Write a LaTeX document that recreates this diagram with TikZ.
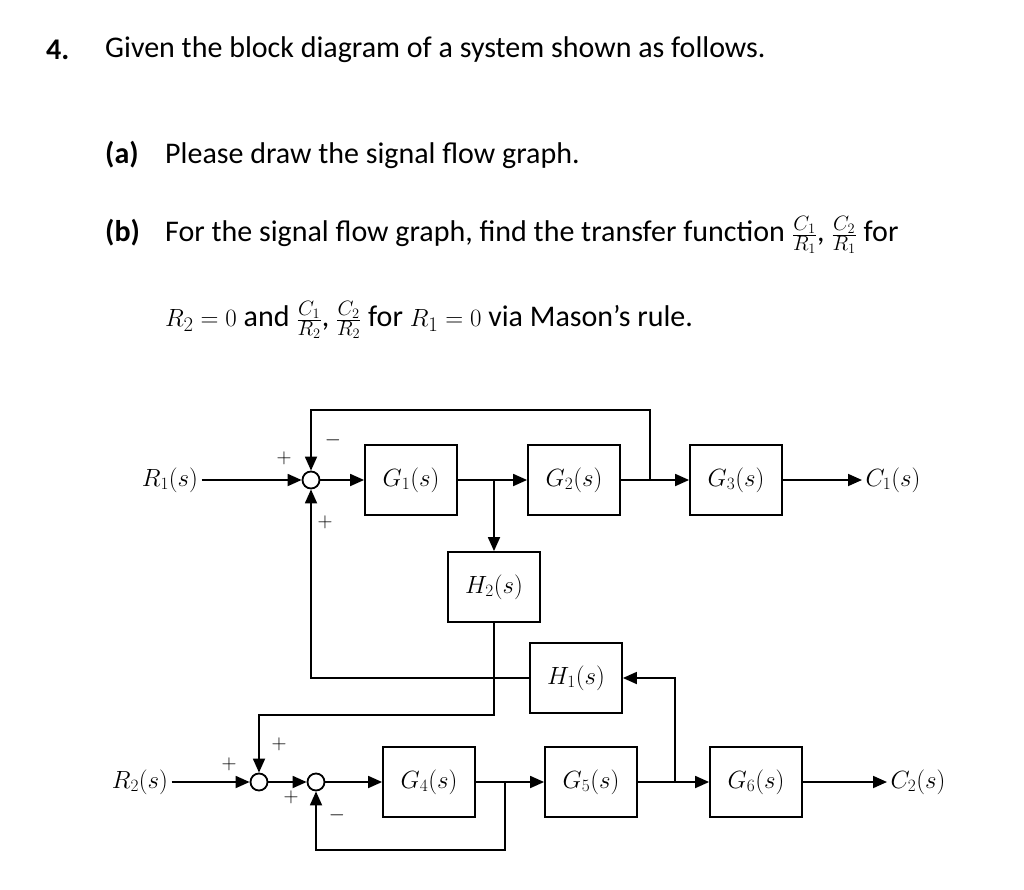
\documentclass[tikz,border=0pt]{standalone}
\usepackage{amsmath}
\usepackage{fontspec}
\setmainfont{Carlito}
\usetikzlibrary{positioning, arrows.meta}

\begin{document}
\begin{tikzpicture}[
			x=1pt, y=-1pt,
			>={Triangle[length=14pt,width=12pt]},
			% Styles
			block/.style={% For the transfer function boxes
				rectangle,
				draw=black,
				line width=1.8pt,
				minimum width=92pt,
				minimum height=70pt,
				font=\fontsize{27}{30}\selectfont,
			},
			sum/.style={% For summing junctions
				circle,
				draw,
				line width=1.8pt,
				minimum size=17pt,
				inner sep=0pt,
			},
			sig/.style={% For the signal labels
				font=\fontsize{27}{30}\selectfont,
			},
			sgn/.style={% For the + and - signs
				font=\fontsize{20}{22}\selectfont,
				inner sep=0pt,
			},
			txt/.style={% For the question text
				font=\fontsize{30}{36}\selectfont,
				anchor=west,
				inner sep=0pt,
			},
			wire/.style={% Connector lines
				line width=1.8pt,
			},
			]
			\useasboundingbox (0,0) rectangle (1024,890);
			
			% Question text
			\node[txt, font=\fontsize{30}{36}\selectfont\bfseries] (num) at (46,50) {4.};
			\node[txt] (given) at (105,50) {Given the block diagram of a system shown as follows.};
			\node[txt] (qa) at (105,155) {\makebox[60pt][l]{\textbf{(a)}}Please draw the signal flow graph.};
			\node[txt] (qb) at (105,235) {\makebox[60pt][l]{\textbf{(b)}}For the signal flow graph, find the transfer function $\frac{C_1}{R_1}$, $\frac{C_2}{R_1}$ for};
			\node[txt] (qc) at (165,320) {$R_2=0$ and $\frac{C_1}{R_2}$, $\frac{C_2}{R_2}$ for $R_1=0$ via Mason's rule.};
			
			% Upper loop
			\node[sig] (r1) at (170,480) {$R_1(s)$};
			\node[sum] (s1) at (311,480) {};
			\node[block] (g1) at (411,480) {$G_1(s)$};
			\node[block] (g2) at (574,480) {$G_2(s)$};
			\node[block] (g3) at (736,480) {$G_3(s)$};
			\node[sig] (c1) at (893,480) {$C_1(s)$};
			\node[block] (h2) at (494,587) {$H_2(s)$};
			\node[block] (h1) at (576,678) {$H_1(s)$};
			
			% Lower loop
			\node[sig] (r2) at (140,782) {$R_2(s)$};
			\node[sum] (s2) at (259,782) {};
			\node[sum] (s3) at (316,782) {};
			\node[block] (g4) at (429,782) {$G_4(s)$};
			\node[block] (g5) at (591,782) {$G_5(s)$};
			\node[block] (g6) at (756,782) {$G_6(s)$};
			\node[sig] (c2) at (918,782) {$C_2(s)$};
			
			% Branch points
			\coordinate (b1) at (g1.east -| h2.north);
			\coordinate (b2) at (650,480);
			\coordinate (b3) at (505,782);
			\coordinate (b4) at (675,782);
			
			% Drawing arrows
			\draw[wire,->] (r1) -- (s1);
			\draw[wire,->] (s1) -- (g1);
			\draw[wire,->] (g1) -- (g2);
			\draw[wire,->] (b1) -- (h2.north);
			\draw[wire,->] (g2) -- (g3);
			\draw[wire,->] (g3) -- (c1);
			\draw[wire,->] (b2) -- (650,410) -| (s1.north);
			\draw[wire,->] (h1.west) -| (s1.south);
			\draw[wire,->] (h2.south) -- (h2.south |- 0,715) -| (s2.north);
			\draw[wire,->] (r2) -- (s2);
			\draw[wire,->] (s2) -- (s3);
			\draw[wire,->] (s3) -- (g4);
			\draw[wire,->] (g4) -- (g5);
			\draw[wire,->] (b3) -- (505,850) -| (s3.south);
			\draw[wire,->] (g5) -- (g6);
			\draw[wire,->] (b4) |- (h1.east);
			\draw[wire,->] (g6) -- (c2);
			
			% Signs
			\node[sgn] (p1) at (284,458) {$+$};
			\node[sgn] (m1) at (333,440) {$-$};
			\node[sgn] (p2) at (325,522) {$+$};
			\node[sgn] (p3) at (229,764) {$+$};
			\node[sgn] (p4) at (279,744) {$+$};
			\node[sgn] (p5) at (291,797) {$+$};
			\node[sgn] (m2) at (337,815) {$-$};
			
\end{tikzpicture}
\end{document}
